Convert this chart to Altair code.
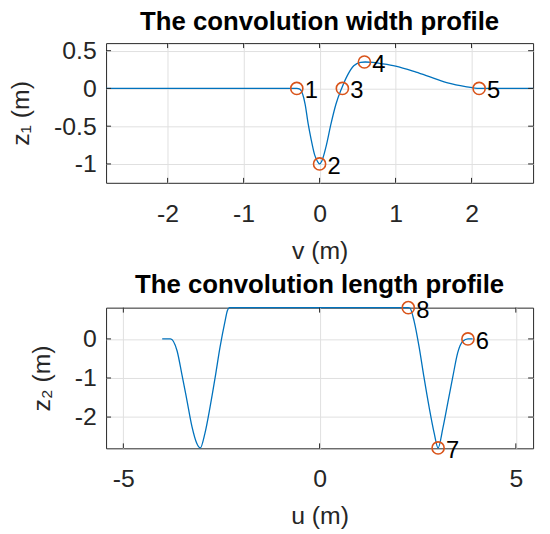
import altair as alt
import pandas as pd

# ---------------- data: width profile ----------------
v_vals = [-2.81, -0.30, -0.26, -0.19, -0.15, -0.11, -0.065, -0.02, 0.0, 0.03, 0.085,
          0.15, 0.215, 0.29, 0.37, 0.45, 0.54, 0.60, 0.70, 0.80, 1.00, 1.27, 1.49,
          1.70, 1.92, 2.10, 2.81]
z1_vals = [0, 0, -0.01, -0.21, -0.47, -0.68, -0.88, -0.98, -1.0, -0.96, -0.77,
           -0.47, -0.21, 0.0, 0.18, 0.30, 0.345, 0.35, 0.345, 0.33, 0.295, 0.215, 0.14,
           0.07, 0.025, 0.0, 0.0]
pt1_v = [-0.30, 0.0, 0.30, 0.59, 2.10]
pt1_z = [0.0, -1.0, 0.0, 0.35, 0.0]
pt1_lab = ["1", "2", "3", "4", "5"]

# ---------------- data: length profile ----------------
u_vals = [-4.01, -3.80, -3.63, -3.51, -3.38, -3.25, -3.13, -3.04, -2.92, -2.79, -2.66,
          -2.54, -2.41, -2.35, -2.30, 2.26, 2.30, 2.41, 2.54, 2.66, 2.79, 2.92, 3.02,
          3.14, 3.27, 3.40, 3.52, 3.65, 3.78, 3.90]
z2_vals = [0.0, 0.0, -0.31, -0.90, -1.57, -2.25, -2.67, -2.79, -2.41, -1.74, -0.98,
           -0.23, 0.45, 0.72, 0.80, 0.80, 0.79, 0.45, -0.23, -0.98, -1.74, -2.41, -2.79,
           -2.29, -1.62, -0.94, -0.35, -0.06, 0.0, 0.0]
pt2_u = [3.78, 3.02, 2.26]
pt2_z = [0.0, -2.79, 0.80]
pt2_lab = ["6", "7", "8"]

# axes
v_ticks = [-2, -1, 0, 1, 2]
z1_ticks = [-1, -0.5, 0, 0.5]
u_ticks = [-5, 0, 5]
z2_ticks = [-2, -1, 0]

FONT = "Liberation Sans"
BLUE = "#0072BD"
ORANGE = "#D95319"
DARK = "#262626"
W = 431


def panel(xs, ys, px, py, plab, xdom, ydom, xticks, yticks, xtitle, ytitle, title, H,
          title_offset):
    xs_scale = alt.Scale(domain=xdom, nice=False, zero=False)
    ys_scale = alt.Scale(domain=ydom, nice=False, zero=False)
    line_df = pd.DataFrame({"x": xs, "y": ys})
    pts_df = pd.DataFrame({"x": px, "y": py, "lab": plab})
    xt_df = pd.DataFrame({"x": xticks})
    yt_df = pd.DataFrame({"y": yticks})

    xaxis = alt.Axis(values=xticks, title=xtitle, grid=True, gridColor="#e0e0e0",
                     ticks=False, domain=False, labelFontSize=25, labelFont=FONT,
                     labelColor=DARK, labelPadding=19, titleFontSize=25, titleFont=FONT,
                     titleFontWeight="normal", titleColor=DARK, titlePadding=12,
                     labelExpr="'' + datum.value")
    yaxis = alt.Axis(values=yticks, title=ytitle, grid=True, gridColor="#e0e0e0",
                     ticks=False, domain=False, labelFontSize=25, labelFont=FONT,
                     labelColor=DARK, labelPadding=10, titleFontSize=25, titleFont=FONT,
                     titleFontWeight="normal", titleColor=DARK, titlePadding=20,
                     labelExpr="'' + datum.value")
    X = alt.X("x:Q", scale=xs_scale, axis=xaxis)
    Y = alt.Y("y:Q", scale=ys_scale, axis=yaxis)

    line = alt.Chart(line_df).mark_line(color=BLUE, strokeWidth=1.3,
                                        interpolate="monotone").encode(
        x=X, y=Y, order="x:Q")
    pts = alt.Chart(pts_df).mark_point(shape="circle", filled=False, color=ORANGE,
                                       size=150, strokeWidth=1.6, opacity=1).encode(x=X, y=Y)
    labs = alt.Chart(pts_df).mark_text(align="left", baseline="middle", dx=8, dy=3,
                                       fontSize=24, font=FONT, color="black").encode(
        x=X, y=Y, text="lab:N")
    tk = 5
    xt_bot = alt.Chart(xt_df).mark_rule(color=DARK, strokeWidth=1).encode(
        x=X, y=alt.value(H), y2=alt.value(H - tk))
    xt_top = alt.Chart(xt_df).mark_rule(color=DARK, strokeWidth=1).encode(
        x=X, y=alt.value(0), y2=alt.value(tk))
    yt_l = alt.Chart(yt_df).mark_rule(color=DARK, strokeWidth=1).encode(
        y=Y, x=alt.value(0), x2=alt.value(tk))
    yt_r = alt.Chart(yt_df).mark_rule(color=DARK, strokeWidth=1).encode(
        y=Y, x=alt.value(W), x2=alt.value(W - tk))

    return alt.layer(line, xt_bot, xt_top, yt_l, yt_r, pts, labs).properties(
        width=W, height=H,
        title=alt.TitleParams(title, fontSize=26, fontWeight="bold", font=FONT,
                              color="black", anchor="middle", offset=title_offset),
    )


top = panel(v_vals, z1_vals, pt1_v, pt1_z, pt1_lab, [-2.81, 2.81], [-1.25, 0.6],
            v_ticks, z1_ticks, "v (m)", "z\u2081 (m)", "The convolution width profile", 141, 4)
bottom = panel(u_vals, z2_vals, pt2_u, pt2_z, pt2_lab, [-5.44, 5.44], [-2.8, 0.8],
               u_ticks, z2_ticks, "u (m)", "z\u2082 (m)", "The convolution length profile", 142, 0)

chart = alt.vconcat(top, bottom, spacing=8).properties(
    padding={"left": 0, "top": -2, "right": 5, "bottom": 0}
).configure_view(stroke=DARK, strokeWidth=1)

chart.save("out.html", embed_options={"renderer": "svg", "actions": False})
